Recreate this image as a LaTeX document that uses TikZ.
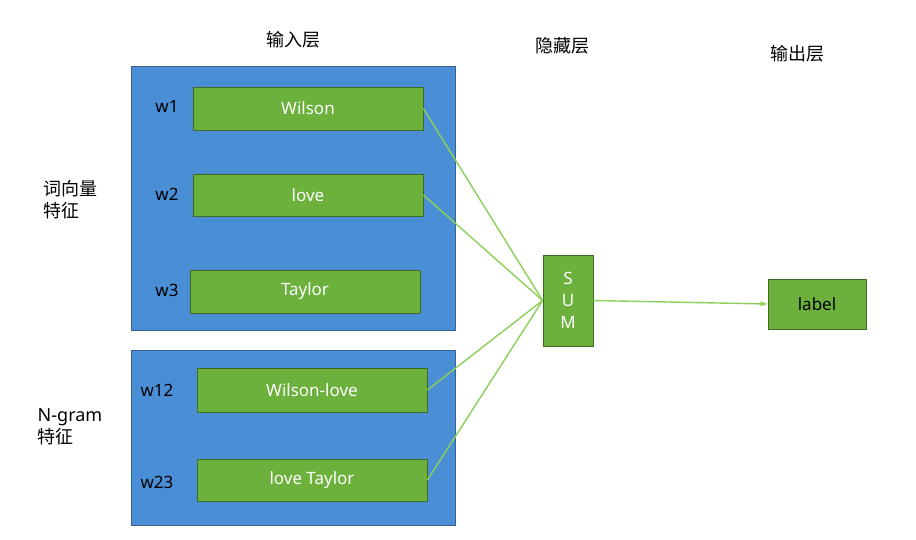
\documentclass[tikz,border=0pt]{standalone}
\usepackage{fontspec}
\setmainfont{Noto Sans}
\newfontfamily\cjk{Noto Sans CJK SC}
\definecolor{bluebg}{HTML}{4A8ED6}
\definecolor{gfill}{HTML}{6BB13C}
\definecolor{gline}{HTML}{8CD05A}
\begin{document}
\begin{tikzpicture}[x=1pt,y=-1pt,
  panel/.style={draw=bluebg!70!black,fill=bluebg,line width=0.8pt},
  gbox/.style={draw=gfill!60!black,fill=gfill,line width=0.8pt,text=white,font=\fontsize{17}{20}\selectfont},
  wl/.style={font=\fontsize{17}{20}\selectfont},
  hd/.style={font=\cjk\fontsize{18}{22}\selectfont},
  conn/.style={draw=gline,line width=1.4pt}]
\useasboundingbox (0,0) rectangle (916,539);
\fill[white] (0,0) rectangle (916,539);
\node[panel,minimum width=324pt,minimum height=264pt] (p1) at (293,198) {};
\node[panel,minimum width=324pt,minimum height=175pt] (p2) at (293,437.5) {};
\node[gbox,minimum width=230pt,minimum height=43pt] (b1) at (308,108.5) {Wilson};
\node[gbox,minimum width=230pt,minimum height=42pt] (b2) at (308,195) {love};
\node[gbox,minimum width=230pt,minimum height=43pt] (b3) at (305,291.5) {Taylor};
\node[gbox,minimum width=230pt,minimum height=44pt] (b4) at (312,390) {Wilson-love};
\node[gbox,minimum width=230pt,minimum height=42pt] (b5) at (312,480) {love Taylor};
\node[wl] (w1) at (167,106) {w1};
\node[wl] (w2) at (167,194) {w2};
\node[wl] (w3) at (167,290) {w3};
\node[wl] (w12) at (157,390) {w12};
\node[wl] (w23) at (157,482) {w23};
\node[gbox,minimum width=50pt,minimum height=91pt,align=center,font=\fontsize{17}{22}\selectfont] (sum) at (568,300.5) {S\\U\\M};
\node[gbox,minimum width=98pt,minimum height=50pt,text=black] (lab) at (817,304) {label};
\node[hd] (h1) at (293,40) {输入层};
\node[hd] (h2) at (562,46) {隐藏层};
\node[hd] (h3) at (797,54) {输出层};
\node[hd,align=left] (f1) at (70,200) {词向量\\特征};
\node[font=\fontsize{18}{22}\selectfont,align=left] (f2) at (70,427) {N-gram\\{\cjk 特征}};
\foreach \b in {b1,b2,b4,b5}{\draw[conn] (\b.east) -- (sum.west);}
\draw[conn,-latex] (sum.east) -- (lab.west);
\end{tikzpicture}
\end{document}
